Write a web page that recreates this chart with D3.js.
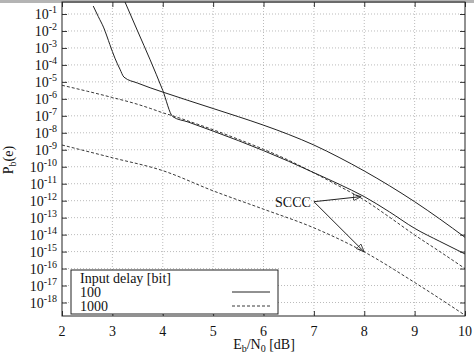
<!DOCTYPE html>
<html>
<head>
<script src="https://cdnjs.cloudflare.com/ajax/libs/d3/7.8.5/d3.min.js"></script>
<style>
  body { margin: 0; background: #fff; }
  text { font-family: "Liberation Serif", "DejaVu Serif", serif; fill: #111; }
</style>
</head>
<body>
<script>
// values: [Eb/N0 dB, log10 Pb]
const solid1 = [[2.62,-0.53],[2.72,-1.15],[2.83,-1.82],[2.95,-2.8],[3.05,-3.6],[3.15,-4.25],[3.23,-4.72],[3.5,-5.07],[4,-5.6],[4.5,-6.09],[5,-6.57],[5.5,-7.05],[6,-7.55],[6.5,-8.1],[7,-8.72],[7.5,-9.45],[8,-10.25],[8.5,-11.12],[9,-12.06],[9.5,-13.08],[10,-14.16]];
const solid2 = [[3.25,-0.29],[3.5,-2.0],[3.75,-3.7],[4,-5.5],[4.2,-7.05],[4.5,-7.36],[5,-7.9],[5.5,-8.46],[6,-9.05],[6.5,-9.68],[7,-10.35],[7.5,-11.03],[8,-11.76],[8.5,-12.66],[9,-13.63],[9.5,-14.4],[10,-15.14]];
const dashed1 = [[2,-5.2],[2.5,-5.55],[3,-5.92],[3.5,-6.32],[3.75,-6.56],[4,-6.82],[4.2,-7.0],[4.5,-7.3],[5,-7.82],[5.5,-8.38],[6,-8.97],[6.5,-9.62],[7,-10.36],[7.5,-11.14],[8,-11.96],[8.5,-12.97],[9,-14.02],[9.5,-15.0],[10,-16.0]];
const dashed2 = [[2,-8.72],[3,-9.47],[4,-10.23],[5,-11.42],[6,-12.5],[7,-13.6],[8,-15.02],[9,-16.82],[10,-18.75]];

const xTicks = [2,3,4,5,6,7,8,9,10];
const yExps = d3.range(-1, -19, -1);
const legendLabels = ["100", "1000"];

const W = 474, H = 354;
const pl = 62, pr = 465, pt = 2, pb = 316;

const x = d3.scaleLinear().domain([2, 10]).range([pl, pr]);
const y = d3.scaleLog().domain([1e-18, 1e-1]).range([302.5, 14]);

const svg = d3.select("body").append("svg")
  .attr("width", W).attr("height", H);

svg.append("rect").attr("x", 0).attr("y", 0).attr("width", W).attr("height", H).attr("fill", "#fff");
svg.append("rect").attr("x", 0).attr("y", 0).attr("width", W).attr("height", pt + 1).attr("fill", "#b4b4b4");

svg.append("clipPath").attr("id", "clip")
  .append("rect").attr("x", pl).attr("y", pt).attr("width", pr - pl).attr("height", pb - pt);

// grid
const grid = svg.append("g").attr("stroke", "#aaa").attr("stroke-width", 0.8).attr("stroke-dasharray", "1,2");
grid.selectAll(".gy").data(yExps).enter().append("line")
  .attr("x1", pl).attr("x2", pr)
  .attr("y1", d => y(Math.pow(10, d))).attr("y2", d => y(Math.pow(10, d)));
grid.selectAll(".gx").data(xTicks.slice(1, -1)).enter().append("line")
  .attr("y1", pt).attr("y2", pb)
  .attr("x1", d => x(d)).attr("x2", d => x(d));

// axes with inward ticks on four sides
const yAxisL = d3.axisLeft(y).tickValues(yExps.map(e => Math.pow(10, e))).tickSize(-5).tickFormat("");
const yAxisR = d3.axisRight(y).tickValues(yExps.map(e => Math.pow(10, e))).tickSize(-5).tickFormat("");
const xAxisB = d3.axisBottom(x).tickValues(xTicks).tickSize(-5).tickFormat("");
const xAxisT = d3.axisTop(x).tickValues(xTicks).tickSize(-5).tickFormat("");
[[yAxisL, `translate(${pl},0)`], [yAxisR, `translate(${pr},0)`],
 [xAxisB, `translate(0,${pb})`], [xAxisT, `translate(0,${pt})`]].forEach(([ax, tr]) => {
  const g = svg.append("g").attr("transform", tr).call(ax);
  g.select(".domain").remove();
  g.selectAll("line").attr("stroke", "#333");
});
svg.append("rect").attr("x", pl).attr("y", pt).attr("width", pr - pl).attr("height", pb - pt)
  .attr("fill", "none").attr("stroke", "#222").attr("stroke-width", 1);

// tick labels
const yl = svg.append("g").selectAll("text").data(yExps).enter().append("text")
  .attr("x", 57).attr("y", d => y(Math.pow(10, d)) + 5)
  .attr("text-anchor", "end").style("font-size", "14px");
yl.append("tspan").text("10");
yl.append("tspan").attr("dy", -6).style("font-size", "10px").text(d => d);

svg.append("g").selectAll("text").data(xTicks).enter().append("text")
  .attr("x", d => x(d)).attr("y", 336)
  .attr("text-anchor", "middle").style("font-size", "14px").text(d => d);

// axis titles
const xt = svg.append("text").attr("x", 264).attr("y", 349).attr("text-anchor", "middle").style("font-size", "14px");
xt.append("tspan").text("E");
xt.append("tspan").attr("dy", 3).style("font-size", "10px").text("b");
xt.append("tspan").attr("dy", -3).text("/N");
xt.append("tspan").attr("dy", 3).style("font-size", "10px").text("0");
xt.append("tspan").attr("dy", -3).text(" [dB]");

const yt = svg.append("text").attr("transform", "translate(13,160) rotate(-90)").attr("text-anchor", "middle").style("font-size", "14px");
yt.append("tspan").text("P");
yt.append("tspan").attr("dy", 3).style("font-size", "10px").text("b");
yt.append("tspan").attr("dy", -3).text("(e)");

// curves
const line = d3.line().x(d => x(d[0])).y(d => y(Math.pow(10, d[1]))).curve(d3.curveMonotoneX);
const plot = svg.append("g").attr("clip-path", "url(#clip)");
[[solid1, null], [solid2, null], [dashed1, "3,2"], [dashed2, "3,2"]].forEach(([data, dash]) => {
  plot.append("path").datum(data).attr("d", line)
    .attr("fill", "none").attr("stroke", "#222").attr("stroke-width", dash ? 0.9 : 1)
    .attr("stroke-dasharray", dash);
});

// SCCC annotation
const arrowFrom = [7.0, -12.06];
const arrowTo = [[7.94, -11.76], [8.0, -15.02]];
svg.append("defs").append("marker").attr("id", "arr")
  .attr("viewBox", "0 0 10 10").attr("refX", 10).attr("refY", 5)
  .attr("markerWidth", 8).attr("markerHeight", 8).attr("orient", "auto")
  .append("path").attr("d", "M0,1 L10,5 L0,9 Z").attr("fill", "none").attr("stroke", "#222").attr("stroke-width", 1);
arrowTo.forEach(t => {
  svg.append("line")
    .attr("x1", x(arrowFrom[0])).attr("y1", y(Math.pow(10, arrowFrom[1])))
    .attr("x2", x(t[0])).attr("y2", y(Math.pow(10, t[1])))
    .attr("stroke", "#222").attr("stroke-width", 1).attr("marker-end", "url(#arr)");
});
svg.append("text").attr("x", x(arrowFrom[0]) - 3).attr("y", y(Math.pow(10, arrowFrom[1])) + 5)
  .attr("text-anchor", "end").style("font-size", "14px").text("SCCC");

// legend
const lg = svg.append("g");
lg.append("rect").attr("x", 71).attr("y", 270).attr("width", 207).attr("height", 44)
  .attr("fill", "#fff").attr("stroke", "#222").attr("stroke-width", 1);
lg.append("text").attr("x", 80).attr("y", 283).style("font-size", "14px").text("Input delay [bit]");
legendLabels.forEach((lab, i) => {
  lg.append("text").attr("x", 80).attr("y", 297 + i * 14).style("font-size", "14px").text(lab);
  lg.append("line").attr("x1", 232).attr("x2", 270).attr("y1", 292 + i * 14).attr("y2", 292 + i * 14)
    .attr("stroke", "#222").attr("stroke-width", i ? 0.9 : 1).attr("stroke-dasharray", i ? "3,2" : null);
});
</script>
</body>
</html>
